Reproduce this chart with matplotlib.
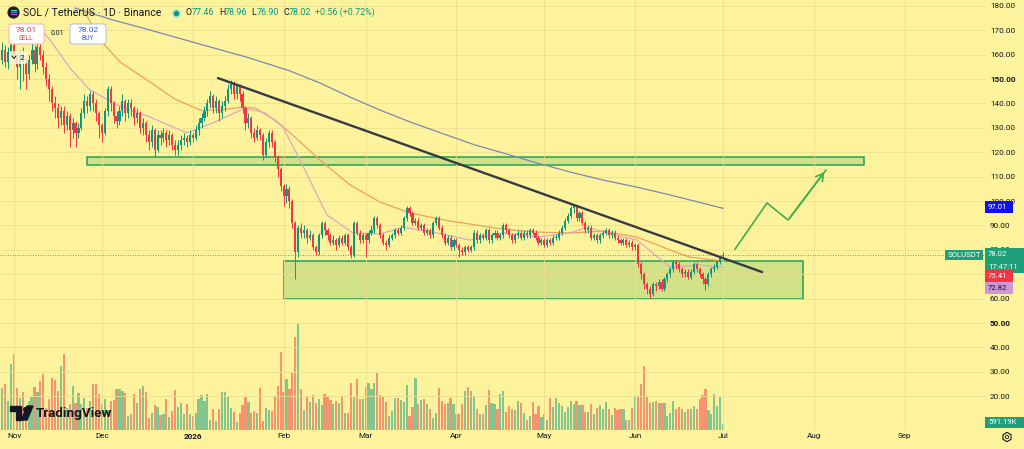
import numpy as np
import matplotlib.pyplot as plt
from matplotlib.patches import Rectangle, FancyBboxPatch, Polygon

plt.rcParams['font.family'] = ['Roboto', 'DejaVu Sans']

# day index: 0 = 1 Nov 2025, one candle per day
first_day = -5
first_open = 160.0

closes = [
    158, 162, 157, 161, 164, 159, 155, 160, 157, 152,
    158, 162, 156, 163, 160, 155, 150, 146, 140, 138,
    134, 137, 131, 135, 129, 132, 128, 130, 136, 141,
    139, 144, 140, 136, 131, 128, 137, 146, 140, 135,
    133, 137, 141, 136, 140, 138, 134, 136, 130, 132,
    127, 124, 129, 121, 127, 126, 128, 125, 127, 123,
    121, 123, 125, 126, 124, 127, 126, 129, 132, 134,
    137, 140, 143, 138, 141, 136, 139, 141, 146, 148,
    144, 147, 144, 138, 132, 134, 128, 126, 129, 127,
    119, 124, 128, 124, 118, 113, 106, 102, 105, 100,
    91, 79, 89, 87, 88, 85, 86, 81, 79, 86,
    91, 88, 86, 83, 84, 82, 85, 83, 86, 81,
    78, 91, 87, 84, 86, 84, 87, 88, 93, 90,
    86, 83, 82, 85, 86, 88, 87, 89, 93, 97,
    95, 91, 92, 89, 90, 87, 88, 86, 91, 93,
    89, 86, 83, 85, 81, 84, 82, 80, 79, 81,
    80, 81, 87, 84, 86, 85, 88, 84, 86, 87,
    85, 86, 90, 88, 86, 84, 86, 87, 85, 87,
    86, 88, 87, 85, 83, 84, 82, 84, 83, 85,
    85, 87, 89, 92, 94, 97, 98, 93, 95, 91,
    88, 89, 85, 86, 84, 86, 87, 88, 86, 87,
    85, 84, 83, 84, 82, 83, 81, 82, 74, 70,
    66, 64, 62, 66, 65, 67, 64, 68, 70, 72,
    75, 74, 72, 70, 71, 69, 71, 74, 72, 70,
    68, 66, 70, 72, 73, 75, 77.46, 78.02,
]

highs = [
    163, 165, 164, 163, 168, 166, 161, 162, 163, 159,
    160, 165, 164, 166, 167, 162, 157, 152, 147, 143,
    140, 139, 139, 137, 136, 134, 133, 132, 138, 144,
    143, 145, 145, 142, 137, 132, 138, 147, 147, 141,
    137, 139, 144, 142, 142, 142, 139, 138, 137, 134,
    133, 129, 131, 130, 129, 129, 130, 129, 129, 128,
    125, 125, 127, 128, 127, 129, 128, 131, 134, 136,
    139, 142, 145, 144, 143, 142, 141, 143, 148, 149.5,
    149, 148, 148, 145, 139, 136, 135, 130, 131, 130,
    128, 126, 129, 129, 125, 119, 114, 107, 107, 106,
    101, 92, 90, 91, 90, 89, 88, 87, 82, 87,
    92, 92, 89, 87, 86, 85, 86, 86, 87, 87,
    82, 92, 92, 88, 87, 87, 88, 90, 94, 94,
    91, 87, 84, 86, 87, 89, 89, 90, 94, 98,
    98, 96, 93, 93, 91, 91, 89, 89, 92, 94,
    94, 90, 87, 86, 86, 85, 85, 83, 81, 82,
    82, 82, 88, 88, 87, 87, 89, 89, 87, 88,
    88, 87, 91, 91, 89, 87, 87, 88, 88, 88,
    88, 89, 89, 88, 86, 85, 85, 85, 85, 86,
    86.5, 88, 90, 93, 95, 98, 98.5, 98, 96, 96,
    92, 90, 90, 87, 87, 87, 88, 89, 89, 88,
    88, 86, 85, 85, 85, 84, 84, 83, 83, 75,
    71, 67, 65, 67, 67, 68, 68, 69, 71, 73,
    76, 76, 75, 73, 72, 72, 72, 75, 75, 73,
    71, 69, 71, 73, 74, 76, 78, 78.96,
]

lows = [
    155, 156, 155, 154, 159, 157, 150, 146, 149, 146,
    150, 156, 153, 154, 158, 152, 147, 141, 137, 134,
    130, 131, 128, 129, 122, 126, 122, 126, 129, 134,
    136, 137, 137, 133, 126, 124, 127, 135, 137, 132,
    130, 131, 135, 133, 134, 135, 131, 132, 128, 127,
    124, 121, 122, 118, 120, 123, 124, 122, 123, 121,
    119, 119, 121, 123, 122, 123, 124, 125, 127, 130,
    133, 135, 138, 136, 136, 133, 134, 137, 140, 144,
    142, 142, 141, 136, 129, 130, 126, 124, 125, 125,
    117, 118, 122, 122, 116, 110, 104, 98, 99, 97,
    89, 68, 77, 85, 85, 83, 84, 80, 78, 78,
    85, 86, 84, 82, 82, 80, 81, 82, 82, 80,
    76.5, 77, 86, 83, 83, 77, 83, 86, 87, 89,
    85, 82, 80, 81, 84, 85, 86, 86, 88, 92,
    94, 90, 90, 88, 88, 86, 86, 85, 85, 90,
    88, 85, 82, 82, 80, 80, 81, 77, 78, 78,
    79, 79, 80, 83, 83, 84, 84, 83, 83, 85,
    84, 84, 85, 87, 85, 83, 83, 85, 84, 84,
    85, 85, 86, 84, 82, 82, 81, 81, 82, 82,
    84, 84, 86, 88, 91, 93, 95, 92, 92, 90,
    87, 87, 84, 84, 83, 83, 85, 86, 85, 85,
    84, 83, 82, 82, 81, 81, 80, 80, 73, 68,
    64, 62, 60.2, 61, 63, 64, 63, 63, 67, 69,
    71, 72, 71, 69, 69, 68, 68, 70, 71, 69,
    66, 63.5, 65, 69, 71, 72, 74, 76.9,
]

# volume in millions
volumes = [
    4.1, 4.2, 4.6, 2.9, 6.6, 7.6, 4.2, 3.2, 3.8, 2.2,
    2.9, 3.3, 4.3, 3.8, 4.9, 5.6, 2.2, 3.1, 5.2, 5.0,
    3.9, 6.4, 7.6, 2.2, 2.6, 4.4, 2.7, 3.7, 2.6, 3.2,
    2.2, 2.9, 4.6, 4.6, 3.6, 2.6, 3.1, 2.0, 2.9, 3.0,
    4.1, 4.1, 3.9, 3.7, 1.4, 1.6, 3.6, 2.7, 4.1, 4.4,
    3.8, 1.2, 1.7, 2.5, 2.3, 1.5, 1.6, 3.1, 1.3, 1.9,
    4.0, 2.3, 2.7, 1.6, 2.6, 1.6, 1.4, 1.7, 3.1, 3.5,
    2.9, 3.6, 1.0, 2.1, 0.9, 2.1, 3.8, 3.8, 3.3, 2.2,
    1.8, 0.8, 1.7, 2.5, 3.3, 2.8, 1.7, 1.9, 1.7, 4.2,
    0.9, 2.2, 2.0, 1.9, 3.4, 4.4, 7.8, 3.8, 5.1, 4.1,
    5.7, 9.3, 10.7, 4.1, 2.0, 3.4, 2.8, 3.5, 2.7, 3.1,
    2.5, 3.6, 3.3, 3.0, 2.6, 2.9, 2.7, 3.4, 1.7, 1.7,
    4.7, 3.3, 5.1, 3.1, 3.1, 4.3, 4.7, 4.1, 4.7, 5.7,
    3.5, 3.4, 2.8, 1.4, 1.9, 3.2, 3.2, 3.0, 2.8, 4.5,
    1.4, 2.3, 5.2, 2.6, 3.0, 3.1, 2.6, 2.1, 1.2, 1.7,
    4.2, 2.9, 2.6, 2.7, 3.2, 2.6, 1.6, 1.6, 2.6, 3.9,
    4.3, 3.9, 3.4, 2.1, 1.6, 1.6, 2.5, 4.0, 2.7, 2.6,
    2.1, 3.6, 3.9, 1.8, 2.4, 2.1, 2.0, 2.9, 2.7, 1.7,
    1.0, 1.4, 2.8, 1.6, 2.4, 1.3, 1.6, 1.0, 3.2, 2.3,
    3.2, 2.7, 2.4, 1.8, 2.3, 2.9, 2.6, 2.9, 2.5, 2.5,
    1.8, 1.8, 2.6, 1.6, 2.2, 2.5, 2.1, 2.8, 2.1, 1.5,
    2.2, 2.0, 2.1, 2.1, 1.0, 1.0, 2.2, 3.4, 3.4, 4.6,
    6.4, 3.3, 2.7, 2.8, 2.9, 2.7, 2.7, 2.7, 1.4, 1.7,
    2.9, 2.1, 2.3, 2.1, 1.8, 2.1, 2.1, 2.4, 2.1, 3.1,
    3.5, 4.1, 2.0, 1.6, 3.6, 2.4, 3.3, 0.59,
]

# moving averages (day, price)
ma_long_days = [20.8, 33.8, 46.4, 63.5, 80.5, 94.2, 104.4, 114.7, 124.9, 135.2, 147.8, 157.3,
                166.9, 178.5, 189.8, 201.0, 212.6, 223.9, 242]
ma_long_vals = [179.1, 174.2, 170.1, 164.3, 158.6, 153.3, 148.4, 142.6, 137.3, 132.4, 127.0, 123.0,
                119.7, 115.6, 111.9, 108.6, 105.7, 102.5, 97.01]
ma_mid_days = [24.2, 29.4, 36.2, 46.4, 54.9, 63.5, 70.3, 77.8, 82.3, 89.1, 95.9, 104.4, 114.7,
               124.9, 135.2, 148.8, 166.9, 178.5, 189.8, 201.0, 212.6, 218.8, 223.9, 230.7, 242]
ma_mid_vals = [177.5, 166.0, 157.0, 148.8, 141.8, 137.3, 137.3, 138.5, 138.1, 133.2, 126.2, 116.8, 106.6,
               99.6, 95.1, 91.8, 88.5, 87.3, 86.9, 87.7, 85.2, 82.4, 79.9, 77.0, 75.41]
ma_short_days = [8, 12.3, 19.1, 25.9, 36.2, 46.4, 59.0, 67.9, 78.8, 85.7, 91.8, 97.6, 106.8, 115.7,
                 124.9, 132.8, 144.4, 155.6, 166.9, 178.5, 189.8, 195.6, 201.0, 212.6, 218.8, 223.9,
                 234.1, 242]
ma_short_vals = [172.0, 166.0, 154.5, 145.5, 138.9, 134.4, 127.9, 132.0, 138.1, 136.1, 130.3, 116.8, 94.3, 86.9,
                 86.5, 89.3, 86.9, 84.0, 86.9, 85.2, 86.9, 89.3, 87.3, 84.0, 77.9, 73.0,
                 73.8, 72.82]

# drawings
trend_days = [69.6, 255.3]
trend_vals = [150.4, 70.9]
proj_days = [246.1, 257.0, 264.2, 277.1]
proj_vals = [80.3, 99.2, 92.2, 112.7]
zones = [(24.9, 290.1, 114.7, 118.0), (92.2, 269.3, 60.0, 75.6)]

month_days = [0, 30, 61, 92, 120, 151, 181, 212, 242, 273, 304]
month_labels = ['Nov', 'Dec', '2026', 'Feb', 'Mar', 'Apr', 'May', 'Jun', 'Jul', 'Aug', 'Sep']
price_ticks = list(range(20, 190, 10))
hidden_ticks = [70]          # covered by the price tags
last_price = 78.02

BG = '#fdf39c'
UP = '#089981'
DOWN = '#f23645'
TXT = '#131722'
W, H = 1024, 449

fig = plt.figure(figsize=(W / 100, H / 100), dpi=100, facecolor=BG)
rect = [0, 19 / H, 985 / W, 430 / H]
axv = fig.add_axes(rect, facecolor=BG)
ax = fig.add_axes(rect)
ax.patch.set_visible(False)
axv.set_zorder(0)
ax.set_zorder(1)

days = np.arange(first_day, first_day + len(closes))
c = np.array(closes, dtype=float)
o = np.r_[first_open, c[:-1]]
up = c >= o
col = np.where(up, UP, DOWN)

# volume
axv.bar(days, volumes, width=0.75, color=col, alpha=0.5, linewidth=0)
axv.set_ylim(0, 43)
axv.set_xlim(-4.78, 331.4)
axv.axis('off')

# grid
ax.set_xlim(-4.78, 331.4)
ax.set_ylim(6.15, 182.4)
ax.set_xticks(month_days, month_labels)
ax.set_yticks(price_ticks, ['' if p in hidden_ticks else f'{p:.2f}' for p in price_ticks])
ax.grid(color='#ecdf8e', lw=0.6, zorder=0)
ax.yaxis.tick_right()
ax.tick_params(axis='y', length=0, pad=3.6, labelsize=5.9, colors=TXT)
ax.tick_params(axis='x', length=0, pad=2.5, labelsize=5.9, colors=TXT)
for lab in ax.get_yticklabels():
    if lab.get_text() in ('50.00', '150.00'):
        lab.set_fontweight('bold')
for lab in ax.get_xticklabels():
    if lab.get_text() == '2026':
        lab.set_fontweight('bold')
for s in ax.spines.values():
    s.set_visible(False)

# zones
for d0, d1, p0, p1 in zones:
    ax.add_patch(Rectangle((d0, p0), d1 - d0, p1 - p0, facecolor='#4caf50', alpha=0.25,
                           edgecolor='none', zorder=1))
    ax.add_patch(Rectangle((d0, p0), d1 - d0, p1 - p0, facecolor='none',
                           edgecolor='#22a052', lw=1.1, zorder=1.1))

# moving averages
ax.plot(ma_long_days, ma_long_vals, color='#7f86b6', lw=0.9, zorder=2)
ax.plot(ma_mid_days, ma_mid_vals, color='#f0a05a', lw=0.9, zorder=2)
ax.plot(ma_short_days, ma_short_vals, color='#dba8c4', lw=0.9, zorder=2)

# last price line
ax.axhline(last_price, color=UP, lw=0.6, ls=(0, (1, 2)), zorder=2)

# candles
ax.vlines(days, lows, highs, colors=col, lw=0.7, zorder=4)
ax.bar(days, np.maximum(np.abs(c - o), 0.3), bottom=np.minimum(o, c), width=0.72,
       color=col, linewidth=0, zorder=5)

# trend line and projection
ax.plot(trend_days, trend_vals, color='#363a45', lw=1.7, zorder=6, solid_capstyle='round')
ax.plot(proj_days, proj_vals, color='#3fae49', lw=1.2, zorder=6)
ax.annotate('', xy=(proj_days[-1], proj_vals[-1]), xytext=(proj_days[-2], proj_vals[-2]),
            arrowprops=dict(arrowstyle='->,head_length=0.5,head_width=0.3', color='#3fae49', lw=1.2),
            zorder=6)

# overlay in pixel coordinates for labels
ov = fig.add_axes([0, 0, 1, 1])
ov.set_xlim(0, W)
ov.set_ylim(H, 0)
ov.axis('off')
ov.set_zorder(5)


def tag(x0, x1, y0, y1, lines, fc, tc='white'):
    ov.add_patch(Rectangle((x0, y0), x1 - x0, y1 - y0, facecolor=fc, edgecolor='none'))
    n = len(lines)
    for i, t in enumerate(lines):
        yc = y0 + (y1 - y0) * (i + 0.5) / n
        ov.text(x0 + 3, yc, t, color=tc, fontsize=5.6, va='center', ha='left')


tag(985, 1013, 201, 213, ['97.01'], '#1010ee')
tag(945, 983, 250, 260, ['SOLUSDT'], '#1f9e7a')
tag(985, 1024, 248, 273, ['78.02', '17:47:11'], '#1f9e7a')
tag(985, 1013, 270, 281.5, ['75.41'], DOWN)
tag(985, 1013, 282, 294, ['72.82'], '#cf97d6', TXT)
tag(985, 1024, 417, 428, ['591.19K'], '#1f9e7a')

# header
ov.scatter([13], [12], s=60, color='#1d1d2b', zorder=3)
for dy, cc in [(-2.2, '#19fb9b'), (0, '#8c75f0'), (2.2, '#b35af5')]:
    ov.plot([10.5, 15.5], [12 + dy, 12 + dy], color=cc, lw=0.8, zorder=4)
ov.text(23, 12.5, 'SOL / TetherUS · 1D · Binance', fontsize=7.6, color=TXT, va='center')
ov.scatter([176], [12.5], s=30, color='#b7e3c9', zorder=3)
ov.scatter([176], [12.5], s=9, color=UP, zorder=4)
for x0, letter, val in [(186, 'O', '77.46'), (219, 'H', '78.96'), (251, 'L', '76.90'), (283, 'C', '78.02')]:
    ov.text(x0, 12.5, letter, fontsize=6.4, color=TXT, va='center')
    ov.text(x0 + 5.5, 12.5, val, fontsize=6.4, color=UP, va='center')
ov.text(315, 12.5, '+0.56 (+0.72%)', fontsize=6.4, color=UP, va='center')

# sell / buy buttons
ov.add_patch(FancyBboxPatch((9, 24), 35, 20, boxstyle='round,pad=0,rounding_size=2.5',
                            facecolor='white', edgecolor='#f5a3ab', lw=0.6))
ov.text(26.5, 30, '78.01', fontsize=6, color=DOWN, ha='center', va='center')
ov.text(26.5, 39, 'SELL', fontsize=4.8, color=DOWN, ha='center', va='center')
ov.text(57, 33.5, '0.01', fontsize=5, color=TXT, ha='center', va='center')
ov.add_patch(FancyBboxPatch((70, 24), 36, 20, boxstyle='round,pad=0,rounding_size=2.5',
                            facecolor='white', edgecolor='#9fb4e6', lw=0.6))
ov.text(88, 30, '78.02', fontsize=6, color='#2962ff', ha='center', va='center')
ov.text(88, 39, 'BUY', fontsize=4.8, color='#2962ff', ha='center', va='center')
ov.add_patch(FancyBboxPatch((9, 51), 18, 13, boxstyle='round,pad=0,rounding_size=2',
                            facecolor='#fffbe0', edgecolor='none', alpha=0.8))
ov.plot([12, 14, 16], [56, 58.5, 56], color=TXT, lw=0.7)
ov.text(20, 57.5, '2', fontsize=6, color=TXT, va='center')

# TradingView watermark
ov.add_patch(Polygon([(10, 406), (21, 406), (21, 420), (16, 420), (16, 411), (10, 411)],
                     closed=True, color=TXT))
ov.scatter([24.5], [408.5], s=7, color=TXT)
ov.add_patch(Polygon([(27, 406), (33, 406), (27, 420), (21.5, 420)], closed=True, color=TXT))
ov.text(36, 413.5, 'TradingView', fontsize=9.6, fontweight='bold', color=TXT, va='center')

# settings icon
ov.scatter([1007], [437], marker='h', s=45, facecolors='none', edgecolors=TXT, lw=0.8)
ov.scatter([1007], [437], s=6, facecolors='none', edgecolors=TXT, lw=0.6)

fig.savefig('out.png', dpi=100, facecolor=BG)
